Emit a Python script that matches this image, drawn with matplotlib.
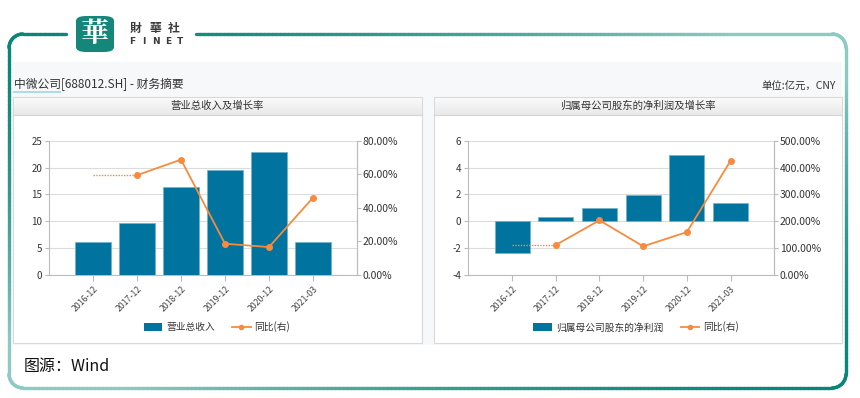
import numpy as np
import matplotlib
matplotlib.use("Agg")
import matplotlib.pyplot as plt
from matplotlib.patches import FancyBboxPatch, Rectangle
from matplotlib.collections import LineCollection
from matplotlib.lines import Line2D
from matplotlib.colors import to_rgb

plt.rcParams['font.family'] = ['Noto Sans CJK SC', 'DejaVu Sans']

# ---------------- data ----------------
categories = ["2016-12", "2017-12", "2018-12", "2019-12", "2020-12", "2021-03"]
revenue = [6.04, 9.65, 16.36, 19.48, 22.89, 6.04]
revenue_yoy = [np.nan, 59.4, 68.7, 18.5, 16.5, 46.0]
profit = [-2.40, 0.31, 0.96, 1.92, 4.93, 1.37]
profit_yoy = [np.nan, 110.8, 203.0, 106.0, 159.0, 425.0]

left_ticks = [0, 5, 10, 15, 20, 25]
left_rticks = [0, 20, 40, 60, 80]
right_ticks = [-4, -2, 0, 2, 4, 6]
right_rticks = [0, 100, 200, 300, 400, 500]

main_title = "中微公司[688012.SH] - 财务摘要"
unit_text = "单位:亿元，CNY"
panel_titles = ["营业总收入及增长率", "归属母公司股东的净利润及增长率"]
bar_labels = ["营业总收入", "归属母公司股东的净利润"]
line_label = "同比(右)"
source_text = "图源：Wind"
logo_cn = "財華社"
logo_en = "FINET"

BAR = "#00739e"
ORANGE = "#f78b3d"
W, H = 860, 398

fig = plt.figure(figsize=(W / 100, H / 100), dpi=100)
fig.patch.set_facecolor("white")


def fx(x):
    return x / W


def fy(y):
    return 1 - y / H


def rect(x0, y0, x1, y1, **kw):
    r = Rectangle((fx(x0), fy(y1)), fx(x1) - fx(x0), fy(y0) - fy(y1),
                  transform=fig.transFigure, **kw)
    fig.add_artist(r)
    return r


# light grey content area
rect(12, 62, 842, 345, facecolor="#f7f8fa", edgecolor="none", zorder=-5)

# outer rounded frame with gradient
def frame_path(x0, y0, x1, y1, r, gap=None):
    pts = []
    n = 12
    def arc(cx, cy, a0, a1):
        for a in np.linspace(a0, a1, n):
            pts.append((cx + r * np.cos(np.radians(a)), cy + r * np.sin(np.radians(a))))
    pts.append((gap[1], y0))
    pts.append((x1 - r, y0))
    arc(x1 - r, y0 + r, -90, 0)
    pts.append((x1, y1 - r))
    arc(x1 - r, y1 - r, 0, 90)
    pts.append((x0 + r, y1))
    arc(x0 + r, y1 - r, 90, 180)
    pts.append((x0, y0 + r))
    arc(x0 + r, y0 + r, 180, 270)
    pts.append((gap[0], y0))
    out = []
    for (a, b), (c, d) in zip(pts[:-1], pts[1:]):
        m = max(2, int(np.hypot(c - a, d - b) / 4))
        for t in np.linspace(0, 1, m, endpoint=False):
            out.append((a + (c - a) * t, b + (d - b) * t))
    out.append(pts[-1])
    return np.array(out)


pp = frame_path(9, 34, 846, 388, 14, gap=(66, 196))
segs = [[(fx(a), fy(b)), (fx(c), fy(d))] for (a, b), (c, d) in zip(pp[:-1], pp[1:])]
dark = np.array(to_rgb("#0a8579"))
light = np.array(to_rgb("#8ccac4"))
cols = []
for (a, b), (c, d) in zip(pp[:-1], pp[1:]):
    u = ((a + c) / 2 - 9) / 837
    v = ((b + d) / 2 - 34) / 354
    t = min(1, abs(u - v) ** 1.8 * 1.3)
    cols.append(dark * (1 - t) + light * t)
lc = LineCollection(segs, colors=cols, linewidths=2.4, transform=fig.transFigure,
                    capstyle="round", zorder=5)
fig.add_artist(lc)

# logo
logo = FancyBboxPatch((fx(76), fy(52)), fx(38), fy(16) - fy(52),
                      boxstyle="round,pad=0,rounding_size=0.012",
                      transform=fig.transFigure, facecolor="#15877a", edgecolor="none")
fig.add_artist(logo)
fig.text(fx(95), fy(34), "華", color="white", fontsize=20, ha="center", va="center",
         fontweight="bold", family=["Noto Serif CJK SC", "Noto Sans CJK SC"])
for i, ch in enumerate(logo_cn):
    fig.text(fx(136 + i * 19), fy(28.5), ch, fontsize=8.5, ha="center", va="center",
             color="#3a3a3a", fontweight="bold",
             family=["Noto Sans CJK TC", "Noto Sans CJK SC"])
for i, ch in enumerate(logo_en):
    fig.text(fx(132 + i * 12), fy(41.5), ch, fontsize=6.5, ha="center", va="center",
             color="#3a3a3a", fontweight="bold", family="DejaVu Sans")

# title row
fig.text(fx(14), fy(84), main_title, fontsize=8.5, color="#333333", ha="left", va="center")
fig.add_artist(Line2D([fx(14), fx(60)], [fy(92), fy(92)], color="#9fd6ea", lw=1.2,
                      transform=fig.transFigure))
fig.text(fx(836), fy(87), unit_text, fontsize=7.5, color="#333333", ha="right", va="center")

# source
fig.text(fx(24), fy(366), source_text, fontsize=11.5, color="#111111", ha="left", va="center")

panels = [
    dict(box=(13, 97, 422, 343), ax=(49, 357), bars=revenue, yoy=revenue_yoy,
         lt=left_ticks, rt=left_rticks, title=panel_titles[0], lab=bar_labels[0],
         legx=217),
    dict(box=(434, 97, 842, 343), ax=(468.3, 774.3), bars=profit, yoy=profit_yoy,
         lt=right_ticks, rt=right_rticks, title=panel_titles[1], lab=bar_labels[1],
         legx=636),
]

for p in panels:
    x0, y0, x1, y1 = p["box"]
    rect(x0, y0, x1, y1, facecolor="white", edgecolor="#d9d9d9", lw=0.8, zorder=-4)
    hax = fig.add_axes([fx(x0 + 0.5), fy(115), fx(x1 - 0.5) - fx(x0 + 0.5), fy(y0 + 0.5) - fy(115)])
    grad = np.linspace(0, 1, 50)[:, None]
    c0 = np.array(to_rgb("#fbfbfb"))
    c1 = np.array(to_rgb("#e9e9e9"))
    img = c0[None, None, :] * (1 - grad[:, :, None]) + c1[None, None, :] * grad[:, :, None]
    hax.imshow(img, aspect="auto", extent=(0, 1, 0, 1))
    hax.set_axis_off()
    fig.add_artist(Line2D([fx(x0), fx(x1)], [fy(115), fy(115)], color="#d5d5d5", lw=0.8,
                          transform=fig.transFigure, zorder=3))
    fig.text(fx((x0 + x1) / 2), fy(106), p["title"], fontsize=7.5, color="#333333",
             ha="center", va="center", zorder=3)

    axl, axr = p["ax"]
    ax = fig.add_axes([fx(axl), fy(274.7), fx(axr) - fx(axl), fy(140.7) - fy(274.7)])
    ax.set_facecolor("none")
    xs = np.arange(len(categories))
    ax.bar(xs, p["bars"], width=0.8, color=BAR, edgecolor="#6fb3cc", linewidth=0.5, zorder=3)
    ax.set_xlim(-1, len(categories))
    ax.set_ylim(p["lt"][0], p["lt"][-1])
    ax.set_yticks(p["lt"])
    ax.set_yticklabels([str(t) for t in p["lt"]], fontsize=7, color="#333333")
    ax.set_xticks(xs)
    ax.set_xticklabels(categories, rotation=45, ha="right", rotation_mode="anchor",
                       fontsize=6.3, color="#444444")
    ax.grid(axis="y", color="#dcdcdc", lw=0.8, zorder=0)
    ax.set_axisbelow(True)
    ax.spines["top"].set_visible(False)
    for s in ["left", "right", "bottom"]:
        ax.spines[s].set_color("#bbbbbb")
        ax.spines[s].set_linewidth(0.8)
    ax.tick_params(axis="y", length=3, color="#bbbbbb", pad=2)
    ax.tick_params(axis="x", length=4, color="#bbbbbb", pad=3)

    ax2 = ax.twinx()
    yoy = np.array(p["yoy"], dtype=float)
    ax2.plot(xs, yoy, color=ORANGE, lw=1.3, marker="o", markersize=4, zorder=4)
    first = int(np.where(~np.isnan(yoy))[0][0])
    ax2.plot([xs[0], xs[first]], [yoy[first], yoy[first]], color=ORANGE, lw=1.0,
             ls=(0, (1.0, 1.0)), zorder=4)
    ax2.set_ylim(p["rt"][0], p["rt"][-1])
    ax2.set_yticks(p["rt"])
    ax2.set_yticklabels([f"{t:.2f}%" for t in p["rt"]], fontsize=7.5, color="#333333")
    ax2.tick_params(axis="y", length=3, color="#bbbbbb", pad=1)
    for s in ["top", "left", "bottom"]:
        ax2.spines[s].set_visible(False)
    ax2.spines["right"].set_color("#bbbbbb")
    ax2.spines["right"].set_linewidth(0.8)

    handles = [Rectangle((0, 0), 1, 1, facecolor=BAR, edgecolor="none"),
               Line2D([], [], color=ORANGE, lw=1.3, marker="o", markersize=3)]
    fig.legend(handles, [p["lab"], line_label], loc="center",
               bbox_to_anchor=(fx(p["legx"]), fy(327)), ncol=2, frameon=False,
               fontsize=7, handlelength=1.9, handleheight=0.8, columnspacing=1.8,
               handletextpad=0.4, labelcolor="#333333")

fig.savefig("out.png", dpi=100, facecolor="white")
